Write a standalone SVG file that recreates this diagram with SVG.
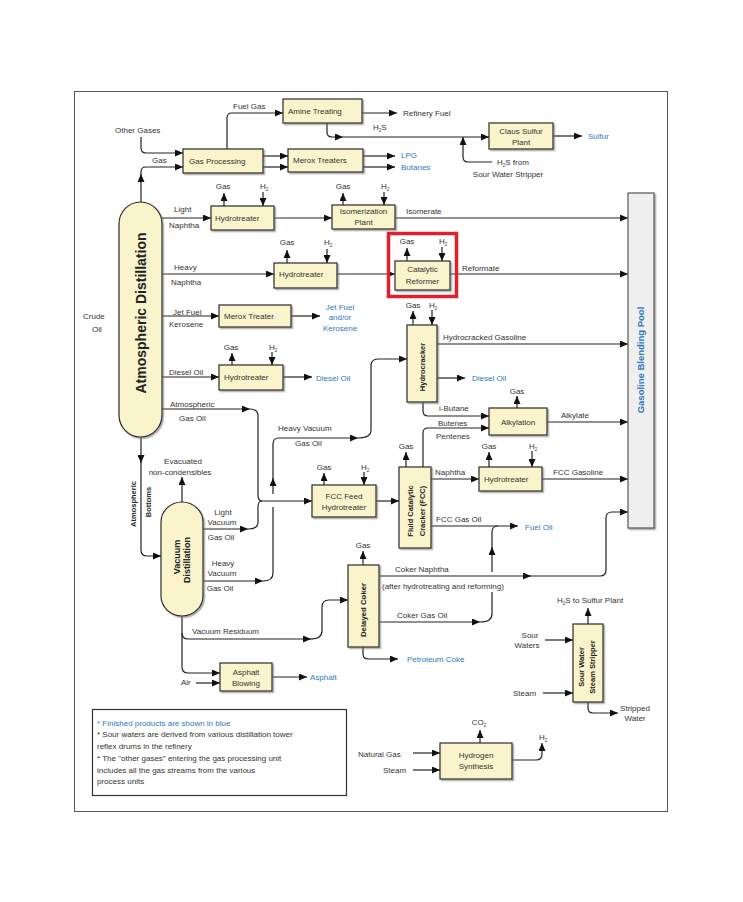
<svg xmlns="http://www.w3.org/2000/svg" width="743" height="902" viewBox="0 0 743 902">
<defs>
<marker id="ah" markerWidth="8" markerHeight="7" refX="8" refY="3.5" orient="auto" markerUnits="userSpaceOnUse"><path d="M0,0 L8,3.5 L0,7 z" fill="#111"/></marker>
<filter id="sh" x="-10%" y="-10%" width="130%" height="140%"><feDropShadow dx="1.5" dy="1.5" stdDeviation="0.7" flood-color="#777" flood-opacity="0.6"/></filter>
</defs>
<style>
.bx{fill:#f9f4cb;stroke:#2a2a2a;stroke-width:1.2;filter:url(#sh)}
.t{font-family:"Liberation Sans",Arial,sans-serif;font-size:8px;fill:#333}
.c{text-anchor:middle}
.b{fill:#2f78bd}
.bd{font-weight:bold;fill:#222}
.ln{fill:none;stroke:#222;stroke-width:1.2}
.a{marker-end:url(#ah)}
.sub{font-size:4.5px}
</style>
<rect width="743" height="902" fill="#fff"/>
<rect x="74.5" y="91.5" width="593" height="720" fill="none" stroke="#555" stroke-width="1"/>

<g id="connectors">
<path class="ln a" d="M227,149 V118 Q227,113 232,113 H283"/>
<path class="ln a" d="M362,113 H397"/>
<path class="ln a" d="M327,123 V132 Q327,137 332,137 H343"/>
<path class="ln a" d="M343,137 H489"/>
<path class="ln a" d="M492,162 H468 Q463,162 463,157 V137"/>
<path class="ln a" d="M553,136 H582"/>
<path class="ln a" d="M141,137 V148 Q141,153 146,153 H183"/>
<path class="ln a" d="M141,202 V174"/>
<path class="ln a" d="M141,175 V172 Q141,167 146,167 H183"/>
<path class="ln a" d="M263,156 H288"/>
<path class="ln a" d="M263,167 H288"/>
<path class="ln a" d="M363,156 H395"/>
<path class="ln a" d="M363,167 H395"/>
<path class="ln a" d="M162,218 H211"/>
<path class="ln a" d="M274,218 H332"/>
<path class="ln a" d="M395,218 H628"/>
<path class="ln a" d="M224,206 V193"/>
<path class="ln a" d="M263,192 V206"/>
<path class="ln a" d="M343,205 V193"/>
<path class="ln a" d="M384,192 V205"/>
<path class="ln a" d="M162,274 H274"/>
<path class="ln a" d="M337,274 H395"/>
<path class="ln a" d="M450,274 H628"/>
<path class="ln a" d="M287,263 V250"/>
<path class="ln a" d="M327,249 V263"/>
<path class="ln a" d="M407,261 V248"/>
<path class="ln a" d="M442,247 V261"/>
<path class="ln a" d="M162,316 H219"/>
<path class="ln a" d="M291,316 H320"/>
<path class="ln a" d="M162,377 H219"/>
<path class="ln a" d="M283,377 H312"/>
<path class="ln a" d="M232,365 V353"/>
<path class="ln a" d="M272,352 V365"/>
<path class="ln a" d="M162,409 H250"/>
<path class="ln" d="M250,409 Q258,409 258,416 V495 Q258,501 262,501"/>
<path class="ln a" d="M203,529 H248"/>
<path class="ln" d="M248,529 Q258,529 258,522 V507 Q258,501 262,501"/>
<path class="ln a" d="M262,501 H312"/>
<path class="ln a" d="M203,581 H263"/>
<path class="ln" d="M263,581 Q273,581 273,573 V507"/>
<path class="ln a" d="M273,494 V478"/>
<path class="ln a" d="M273,479 V444 Q273,438 279,438 H358"/>
<path class="ln a" d="M358,438 Q371,438 371,430 V366 Q371,359 378,359 H407"/>
<path class="ln a" d="M376,501 H399"/>
<path class="ln a" d="M324,485 V473"/>
<path class="ln a" d="M364,472 V485"/>
<path class="ln a" d="M413,325 V311"/>
<path class="ln a" d="M432,310 V325"/>
<path class="ln a" d="M437,344 H628"/>
<path class="ln a" d="M437,378 H465"/>
<path class="ln a" d="M423,402 V411 Q423,416 428,416 H489"/>
<path class="ln a" d="M517,408 V396"/>
<path class="ln a" d="M547,422 H628"/>
<path class="ln a" d="M423,467 V433 Q423,428 428,428 H489"/>
<path class="ln a" d="M406,467 V452"/>
<path class="ln a" d="M431,479 H479"/>
<path class="ln a" d="M489,467 V452"/>
<path class="ln a" d="M532,451 V467"/>
<path class="ln a" d="M542,479 H628"/>
<path class="ln a" d="M431,526 H518"/>
<path class="ln a" d="M379,622 H480"/>
<path class="ln" d="M480,622 Q492,622 492,614 V592"/>
<path class="ln a" d="M492,572 V547"/>
<path class="ln" d="M492,548 V532 Q492,526 498,526"/>
<path class="ln a" d="M379,576 H531"/>
<path class="ln a" d="M530,576 H600 Q606,576 606,570 V518 Q606,512 612,512 H628"/>
<path class="ln a" d="M363,565 V551"/>
<path class="ln a" d="M363,647 V654 Q363,659 368,659 H398"/>
<path class="ln a" d="M182,616 V667 Q182,673 188,673 H220"/>
<path class="ln a" d="M182,633 Q182,639 188,639 H311"/>
<path class="ln a" d="M310,639 Q322,639 322,631 V607 Q322,600 329,600 H348"/>
<path class="ln a" d="M196,683 H220"/>
<path class="ln a" d="M272,677 H307"/>
<path class="ln a" d="M141,437 V463"/>
<path class="ln a" d="M141,462 V550 Q141,556 147,556 H161"/>
<path class="ln a" d="M182,502 V477"/>
<path class="ln a" d="M588,624 V608"/>
<path class="ln a" d="M545,640 H573"/>
<path class="ln a" d="M543,693 H573"/>
<path class="ln a" d="M588,702 V708 Q588,713 593,713 H618"/>
<path class="ln a" d="M480,743 V730"/>
<path class="ln a" d="M413,753 H440"/>
<path class="ln a" d="M413,770 H440"/>
<path class="ln a" d="M512,760 H536 Q542,760 542,754 V743"/>
</g>

<g id="labels">
<text class="t" x="233" y="109">Fuel Gas</text>
<text class="t" x="403" y="116">Refinery Fuel</text>
<text class="t" x="115" y="133">Other Gases</text>
<text class="t" x="152" y="163">Gas</text>
<text class="t" x="373" y="130">H<tspan class="sub" dy="2">2</tspan><tspan dy="-2">S</tspan></text>
<text class="t b" x="401" y="158">LPG</text>
<text class="t b" x="401" y="170">Butanes</text>
<text class="t b" x="588" y="139">Sulfur</text>
<text class="t" x="497" y="165">H<tspan class="sub" dy="2">2</tspan><tspan dy="-2">S from</tspan></text>
<text class="t c" x="508" y="177">Sour Water Stripper</text>
<text class="t c" x="223" y="189">Gas</text>
<text class="t" x="260" y="189">H<tspan class="sub" dy="2">2</tspan></text>
<text class="t c" x="343" y="189">Gas</text>
<text class="t" x="381" y="189">H<tspan class="sub" dy="2">2</tspan></text>
<text class="t" x="174" y="212">Light</text>
<text class="t" x="169" y="228">Naphtha</text>
<text class="t" x="406" y="214">Isomerate</text>
<text class="t c" x="287" y="245">Gas</text>
<text class="t" x="324" y="245">H<tspan class="sub" dy="2">2</tspan></text>
<text class="t c" x="407" y="244">Gas</text>
<text class="t" x="439" y="244">H<tspan class="sub" dy="2">2</tspan></text>
<text class="t" x="174" y="270">Heavy</text>
<text class="t" x="171" y="285">Naphtha</text>
<text class="t" x="462" y="271">Reformate</text>
<text class="t" x="83" y="319">Crude</text>
<text class="t c" x="97" y="332">Oil</text>
<text class="t" x="173" y="315">Jet Fuel</text>
<text class="t" x="169" y="327">Kerosene</text>
<text class="t b c" x="340" y="310">Jet Fuel</text>
<text class="t b c" x="340" y="320">and/or</text>
<text class="t b c" x="340" y="331">Kerosene</text>
<text class="t c" x="231" y="350">Gas</text>
<text class="t" x="269" y="350">H<tspan class="sub" dy="2">2</tspan></text>
<text class="t" x="169" y="375">Diesel Oil</text>
<text class="t b" x="316" y="381">Diesel Oil</text>
<text class="t" x="170" y="407">Atmospheric</text>
<text class="t" x="179" y="421">Gas Oil</text>
<text class="t c" x="413" y="308">Gas</text>
<text class="t" x="429" y="308">H<tspan class="sub" dy="2">2</tspan></text>
<text class="t" x="443" y="340">Hydrocracked Gasoline</text>
<text class="t b" x="472" y="381">Diesel Oil</text>
<text class="t c" x="517" y="394">Gas</text>
<text class="t" x="439" y="411">i-Butane</text>
<text class="t" x="561" y="418">Alkylate</text>
<text class="t" x="438" y="426">Butenes</text>
<text class="t" x="436" y="439">Pentenes</text>
<text class="t" x="278" y="431">Heavy Vacuum</text>
<text class="t" x="295" y="446">Gas Oil</text>
<text class="t c" x="183" y="464">Evacuated</text>
<text class="t c" x="180" y="475">non-condensibles</text>
<text class="t c" x="324" y="470">Gas</text>
<text class="t" x="361" y="470">H<tspan class="sub" dy="2">2</tspan></text>
<text class="t c" x="406" y="449">Gas</text>
<text class="t c" x="489" y="449">Gas</text>
<text class="t" x="529" y="449">H<tspan class="sub" dy="2">2</tspan></text>
<text class="t" x="435" y="475">Naphtha</text>
<text class="t" x="553" y="475">FCC Gasoline</text>
<text class="t c" x="223" y="515">Light</text>
<text class="t c" x="222" y="525">Vacuum</text>
<text class="t c" x="221" y="540">Gas Oil</text>
<text class="t" x="436" y="522">FCC Gas Oil</text>
<text class="t b" x="525" y="530">Fuel Oil</text>
<text class="t c" x="223" y="566">Heavy</text>
<text class="t c" x="222" y="576">Vacuum</text>
<text class="t c" x="220" y="591">Gas Oil</text>
<text class="t c" x="363" y="548">Gas</text>
<text class="t" x="395" y="572">Coker Naphtha</text>
<text class="t" x="382" y="589">(after hydrotreating and reforming)</text>
<text class="t" x="397" y="618">Coker Gas Oil</text>
<text class="t" x="192" y="634">Vacuum Residuum</text>
<text class="t b" x="407" y="662">Petroleum Coke</text>
<text class="t" x="181" y="685">Air</text>
<text class="t b" x="310" y="680">Asphalt</text>
<text class="t" x="557" y="603">H<tspan class="sub" dy="2">2</tspan><tspan dy="-2">S to Sulfur Plant</tspan></text>
<text class="t c" x="530" y="638">Sour</text>
<text class="t c" x="527" y="648">Waters</text>
<text class="t" x="513" y="696">Steam</text>
<text class="t c" x="635" y="711">Stripped</text>
<text class="t c" x="635" y="721">Water</text>
<text class="t c" x="479" y="725">CO<tspan class="sub" dy="2">2</tspan></text>
<text class="t" x="539" y="740">H<tspan class="sub" dy="2">2</tspan></text>
<text class="t" x="358" y="757">Natural Gas</text>
<text class="t" x="383" y="773">Steam</text>
</g>

<g id="atmospheric-distillation">
<rect class="bx" x="119" y="202" width="43" height="235" rx="21.5" ry="22"/>
<text class="t bd c" style="font-size:14px" transform="translate(146,313) rotate(-90)">Atmospheric Distillation</text>
</g>
<g id="atmospheric-bottoms-label">
<text class="t bd c" style="font-size:7.5px" transform="translate(135.7,504) rotate(-90)">Atmospheric</text>
<text class="t bd c" style="font-size:7.5px" transform="translate(150.7,502) rotate(-90)">Bottoms</text>
</g>
<g id="vacuum-distillation">
<rect class="bx" x="161" y="502" width="42" height="114" rx="21" ry="20"/>
<text class="t bd c" style="font-size:9px" transform="translate(180.2,557) rotate(-90)">Vacuum</text>
<text class="t bd c" style="font-size:9px" transform="translate(190.2,560) rotate(-90)">Distillation</text>
</g>
<g id="amine-treating">
<rect class="bx" x="283" y="99" width="79" height="24"/>
<text class="t" x="288" y="114">Amine Treating</text>
</g>
<g id="gas-processing">
<rect class="bx" x="183" y="149" width="80" height="24"/>
<text class="t" x="189" y="164">Gas Processing</text>
</g>
<g id="merox-treaters">
<rect class="bx" x="288" y="149" width="75" height="23"/>
<text class="t" x="293" y="163">Merox Treaters</text>
</g>
<g id="claus-sulfur-plant">
<rect class="bx" x="489" y="123" width="64" height="26"/>
<text class="t c" x="521" y="134">Claus Sulfur</text>
<text class="t c" x="521" y="145">Plant</text>
</g>
<g id="hydrotreater-1">
<rect class="bx" x="211" y="206" width="63" height="24"/>
<text class="t" x="215" y="221">Hydrotreater</text>
</g>
<g id="isomerization-plant">
<rect class="bx" x="332" y="205" width="63" height="24"/>
<text class="t c" x="363.5" y="214">Isomerization</text>
<text class="t c" x="363.5" y="225">Plant</text>
</g>
<g id="hydrotreater-2">
<rect class="bx" x="274" y="263" width="63" height="25"/>
<text class="t" x="279" y="277">Hydrotreater</text>
</g>
<g id="catalytic-reformer">
<rect class="bx" x="395" y="261" width="55" height="29"/>
<text class="t c" x="422.5" y="272">Catalytic</text>
<text class="t c" x="422.5" y="284">Reformer</text>
<rect x="388.5" y="233.5" width="68" height="63" fill="none" stroke="#e0202a" stroke-width="3.5"/>
</g>
<g id="merox-treater">
<rect class="bx" x="219" y="305" width="72" height="22"/>
<text class="t" x="224" y="319">Merox Treater</text>
</g>
<g id="hydrotreater-3">
<rect class="bx" x="219" y="365" width="64" height="25"/>
<text class="t" x="224" y="380">Hydrotreater</text>
</g>
<g id="hydrocracker">
<rect class="bx" x="407" y="325" width="30" height="77"/>
<text class="t bd c" style="font-size:7.5px" transform="translate(424.7,367) rotate(-90)">Hydrocracker</text>
</g>
<g id="alkylation">
<rect class="bx" x="489" y="408" width="58" height="27"/>
<text class="t c" x="518" y="425">Alkylation</text>
</g>
<g id="fcc-feed-hydrotreater">
<rect class="bx" x="312" y="485" width="64" height="32"/>
<text class="t c" x="344" y="499">FCC Feed</text>
<text class="t c" x="344" y="510">Hydrotreater</text>
</g>
<g id="fluid-catalytic-cracker">
<rect class="bx" x="399" y="467" width="32" height="81"/>
<text class="t bd c" style="font-size:7.5px" transform="translate(412.7,511) rotate(-90)">Fluid Catalytic</text>
<text class="t bd c" style="font-size:7.5px" transform="translate(425.2,511) rotate(-90)">Cracker (FCC)</text>
</g>
<g id="hydrotreater-4">
<rect class="bx" x="479" y="467" width="63" height="24"/>
<text class="t" x="484" y="482">Hydrotreater</text>
</g>
<g id="delayed-coker">
<rect class="bx" x="348" y="565" width="31" height="82"/>
<text class="t bd c" style="font-size:7.8px" transform="translate(366.3,610) rotate(-90)">Delayed Coker</text>
</g>
<g id="asphalt-blowing">
<rect class="bx" x="220" y="663" width="52" height="28"/>
<text class="t c" x="246" y="675">Asphalt</text>
<text class="t c" x="246" y="686">Blowing</text>
</g>
<g id="sour-water-steam-stripper">
<rect class="bx" x="573" y="624" width="30" height="78"/>
<text class="t bd c" style="font-size:7.5px" transform="translate(583.7,667) rotate(-90)">Sour Water</text>
<text class="t bd c" style="font-size:7.5px" transform="translate(595.2,667) rotate(-90)">Steam Stripper</text>
</g>
<g id="hydrogen-synthesis">
<rect class="bx" x="440" y="743" width="72" height="36"/>
<text class="t c" x="476" y="758">Hydrogen</text>
<text class="t c" x="476" y="769">Synthesis</text>
</g>
<g id="gasoline-blending-pool">
<rect x="628" y="193" width="26" height="335" fill="#efefef" stroke="#555" stroke-width="1.2" filter="url(#sh)"/>
<text class="t c" style="font-size:9.5px;font-weight:bold;fill:#2f78bd" transform="translate(644.4,360) rotate(-90)">Gasoline Blending Pool</text>
</g>
<g id="legend">
<rect x="92.5" y="709.5" width="254" height="86" fill="#fff" stroke="#333" stroke-width="1.2"/>
<text class="t b" x="97" y="726">* Finished products are shown in blue</text>
<text class="t" x="97" y="737">* Sour waters are derived from various distillation tower</text>
<text class="t" x="97" y="749">reflex drums in the refinery</text>
<text class="t" x="97" y="761">* The "other gases" entering the gas processing unit</text>
<text class="t" x="97" y="773">includes all the gas streams from the various</text>
<text class="t" x="97" y="784">process units</text>
</g>
</svg>
